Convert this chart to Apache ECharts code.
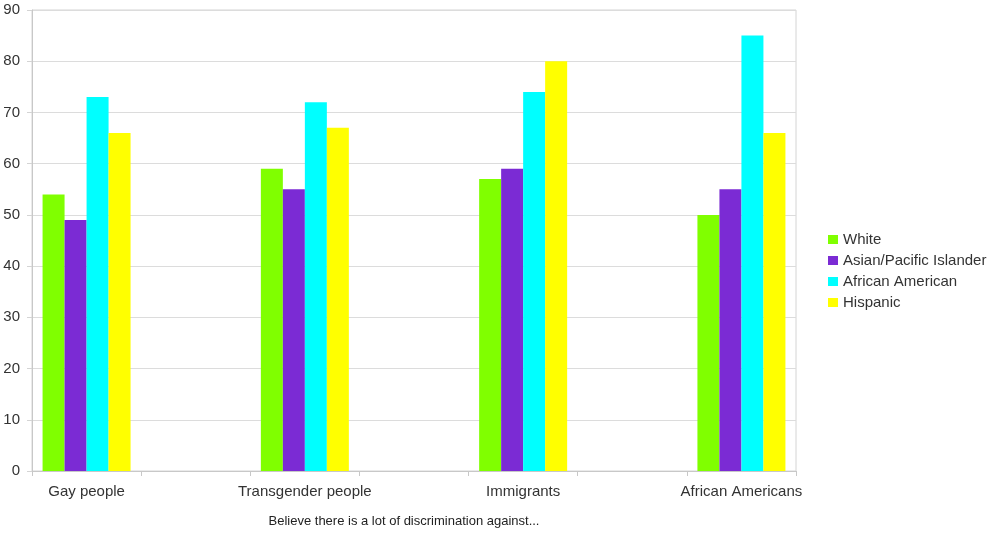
<!DOCTYPE html>
<html>
<head>
<meta charset="utf-8">
<script src="https://cdn.jsdelivr.net/npm/echarts@6/dist/echarts.min.js"></script>
<style>
html,body{margin:0;padding:0;background:#fff;}
#chart{width:1000px;height:540px;}
</style>
</head>
<body>
<div id="chart"></div>
<script>
// categories, with empty slots between groups (as in the source chart)
var categories = ['Gay people', '', 'Transgender people', '', 'Immigrants', '', 'African Americans'];
var white    = [54, '-', 59, '-', 57, '-', 50];
var asian    = [49, '-', 55, '-', 59, '-', 55];
var african  = [73, '-', 72, '-', 74, '-', 85];
var hispanic = [66, '-', 67, '-', 80, '-', 66];
var seriesNames = ['White', 'Asian/Pacific Islander', 'African American', 'Hispanic'];
var colors = ['#80ff00', '#7b2bd4', '#00ffff', '#ffff00'];

var font = 'Liberation Sans';

function mkSeries(name, data, color){
	return {
		name : name,
		type : 'bar',
		data : data,
		barWidth : 22,
		barGap : '0%',
		itemStyle : { color : color },
		emphasis : { disabled : true }
	};
}

var option = {
	backgroundColor : '#fff',
	animation : false,
	textStyle : { fontFamily : font },
	grid : {
		left : 32,
		right : 204,
		top : 10,
		bottom : 69,
		show : true,
		borderColor : '#d4d4d4',
		borderWidth : 1
	},
	legend : {
		orient : 'vertical',
		left : 828,
		top : 232,
		padding : 0,
		itemWidth : 10,
		itemHeight : 9,
		itemGap : 6,
		icon : 'rect',
		textStyle : { color : '#333', fontSize : 15, fontFamily : font },
		data : seriesNames
	},
	xAxis : {
		type : 'category',
		data : categories,
		name : 'Believe there is a lot of discrimination against...',
		nameLocation : 'middle',
		nameGap : 44,
		nameTextStyle : { color : '#222', fontSize : 13, fontFamily : font, padding : [0, 20, 0, 0] },
		axisLine : { lineStyle : { color : '#c8c8c8', width : 1 } },
		axisTick : { show : true, interval : 0, length : 5, lineStyle : { color : '#c8c8c8' } },
		axisLabel : { interval : 0, color : '#333', fontSize : 15, margin : 13, fontFamily : font },
		splitLine : { show : false }
	},
	yAxis : {
		type : 'value',
		min : 0,
		max : 90,
		interval : 10,
		axisLine : { show : true, lineStyle : { color : '#c8c8c8' } },
		axisTick : { show : true, length : 5, lineStyle : { color : '#d4d4d4' } },
		axisLabel : { color : '#333', fontSize : 15, margin : 12, fontFamily : font },
		splitLine : { lineStyle : { color : '#dcdcdc' } }
	},
	series : [
		mkSeries(seriesNames[0], white, colors[0]),
		mkSeries(seriesNames[1], asian, colors[1]),
		mkSeries(seriesNames[2], african, colors[2]),
		mkSeries(seriesNames[3], hispanic, colors[3])
	]
};

var myChart = echarts.init(document.getElementById('chart'));
myChart.setOption(option);
</script>
</body>
</html>
